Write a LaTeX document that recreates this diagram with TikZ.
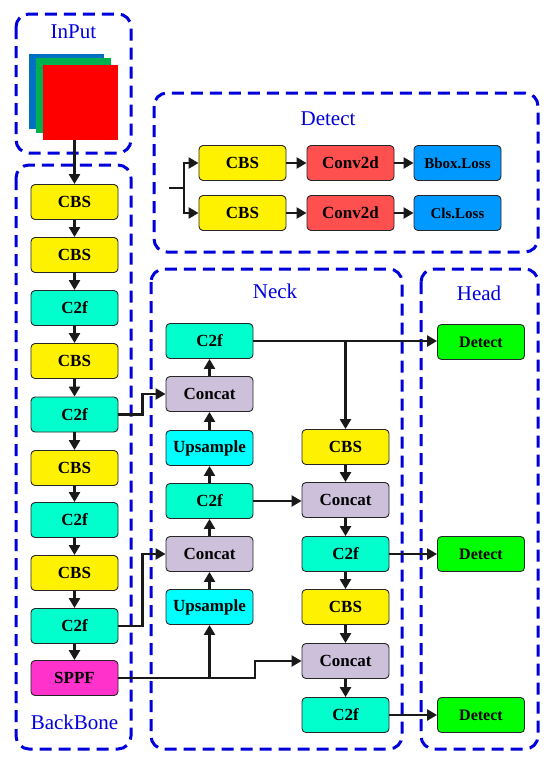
\documentclass[tikz,border=0pt]{standalone}
\usepackage{fontspec}
\setmainfont{Liberation Serif}
\usetikzlibrary{arrows.meta,calc}
\tikzset{
  x=1pt,y=-1pt,
  blockbase/.style={draw=black!85,line width=0.9pt,rounded corners=4pt,minimum width=87pt,minimum height=35pt,inner sep=0pt,font=\fontsize{17}{17}\selectfont\bfseries,text=black},
  cbs/.style={blockbase,fill=yellow},
  ctwof/.style={blockbase,fill=c2fcol},
  concat/.style={blockbase,fill=concatcol},
  upsamp/.style={blockbase,fill=upcol},
  sppf/.style={blockbase,fill=sppfcol},
  convd/.style={blockbase,fill=convcol},
  lossbox/.style={blockbase,fill=losscol,font=\fontsize{15}{15}\selectfont\bfseries},
  detectbox/.style={blockbase,fill=detcol,font=\fontsize{16}{16}\selectfont\bfseries},
  frame/.style={draw=framecol,line width=3pt,rounded corners=13pt,dash pattern=on 12pt off 7pt},
  grouplabel/.style={text=framecol,font=\fontsize{21}{21}\selectfont,inner sep=0pt},
  conn/.style={draw=black!90,line width=2.4pt,-{Triangle[length=10pt,width=11pt]}},
  plainconn/.style={draw=black!90,line width=2.4pt},
  sq/.style={minimum width=75pt,minimum height=75pt,inner sep=0pt,draw=none},
}
\definecolor{c2fcol}{RGB}{0,255,204}
\definecolor{concatcol}{RGB}{204,192,218}
\definecolor{sppfcol}{RGB}{255,51,204}
\definecolor{convcol}{RGB}{255,80,80}
\definecolor{losscol}{RGB}{0,153,255}
\definecolor{detcol}{RGB}{0,255,0}
\definecolor{upcol}{RGB}{0,255,255}
\definecolor{framecol}{RGB}{0,0,220}
\begin{document}
\begin{tikzpicture}
\useasboundingbox (0,0) rectangle (550,758);
% frames
\draw[frame] (16,14) rectangle (131,153);
\draw[frame] (16,165) rectangle (131,749);
\draw[frame] (154,93) rectangle (538,252);
\draw[frame] (151,269) rectangle (402,749);
\draw[frame] (421,269) rectangle (538,749);
% labels
\node[grouplabel] (linput) at (73.5,32) {InPut};
\node[grouplabel] (lback) at (74.5,722) {BackBone};
\node[grouplabel] (ldet) at (328,119) {Detect};
\node[grouplabel] (lneck) at (275,291) {Neck};
\node[grouplabel] (lhead) at (479,293) {Head};
% input squares
\node[sq,fill={rgb,255:red,0;green,112;blue,192}] (sqb) at (66.5,91) {};
\node[sq,fill={rgb,255:red,0;green,176;blue,80}] (sqg) at (73,95) {};
\node[sq,fill=red] (sqr) at (80.5,102) {};
% backbone
\node[cbs] (b1) at (74.5,202) {CBS};
\node[cbs] (b2) at (74.5,255) {CBS};
\node[ctwof] (b3) at (74.5,308) {C2f};
\node[cbs] (b4) at (74.5,361) {CBS};
\node[ctwof] (b5) at (74.5,414.5) {C2f};
\node[cbs] (b6) at (74.5,468) {CBS};
\node[ctwof] (b7) at (74.5,520) {C2f};
\node[cbs] (b8) at (74.5,573) {CBS};
\node[ctwof] (b9) at (74.5,626) {C2f};
\node[sppf] (b10) at (74.5,678) {SPPF};
% neck left
\node[ctwof] (n1) at (209.5,341) {C2f};
\node[concat] (n2) at (209.5,394) {Concat};
\node[upsamp] (n3) at (209.5,448) {Upsample};
\node[ctwof] (n4) at (209.5,501) {C2f};
\node[concat] (n5) at (209.5,554) {Concat};
\node[upsamp] (n6) at (209.5,607) {Upsample};
% neck right
\node[cbs] (m1) at (345.5,447) {CBS};
\node[concat] (m2) at (345.5,500) {Concat};
\node[ctwof] (m3) at (345.5,554) {C2f};
\node[cbs] (m4) at (345.5,607) {CBS};
\node[concat] (m5) at (345.5,661) {Concat};
\node[ctwof] (m6) at (345.5,715) {C2f};
% head
\node[detectbox] (h1) at (481,342) {Detect};
\node[detectbox] (h2) at (481,554) {Detect};
\node[detectbox] (h3) at (481,715) {Detect};
% detect
\node[cbs] (d1) at (242.5,163) {CBS};
\node[convd] (d2) at (350.5,163) {Conv2d};
\node[lossbox] (d3) at (457.5,163) {Bbox.Loss};
\node[cbs] (e1) at (242.5,213) {CBS};
\node[convd] (e2) at (350.5,213) {Conv2d};
\node[lossbox] (e3) at (457.5,213) {Cls.Loss};
% backbone connectors
\draw[conn] (b1.north |- sqr.south) -- (b1.north);
\foreach \a/\b in {b1/b2,b2/b3,b3/b4,b4/b5,b5/b6,b6/b7,b7/b8,b8/b9,b9/b10,
  n6/n5,n5/n4,n4/n3,n3/n2,n2/n1,m1/m2,m2/m3,m3/m4,m4/m5,m5/m6}
  \draw[conn] (\a) -- (\b);
% detect connectors
\coordinate (dstart) at (169,188);
\coordinate (dfork) at (184,188);
\draw[plainconn] (dstart) -- (dfork);
\draw[conn] (dfork) |- (d1.west);
\draw[conn] (dfork) |- (e1.west);
\foreach \a/\b in {d1/d2,d2/d3,e1/e2,e2/e3}
  \draw[conn] (\a) -- (\b);
% cross connectors
\draw[conn] (b5.east) -- ++(24,0) |- (n2.west);
\draw[conn] (b9.east) -- ++(24,0) |- (n5.west);
\coordinate (sppfup) at (n6.south |- b10.east);
\draw[plainconn] (b10.east) -- (sppfup);
\draw[conn] (sppfup) -- (n6.south);
\draw[conn] (sppfup) -- (255,678) |- (m5.west);
\draw[conn] (n1.east) -- (h1.west |- n1.east);
\coordinate (branch) at (m1.north |- n1.east);
\draw[conn] (branch) -- (m1.north);
\draw[conn] (n4.east) -- (m2.west |- n4.east);
\draw[conn] (m3.east) -- (h2.west);
\draw[conn] (m6.east) -- (h3.west);
\end{tikzpicture}
\end{document}
